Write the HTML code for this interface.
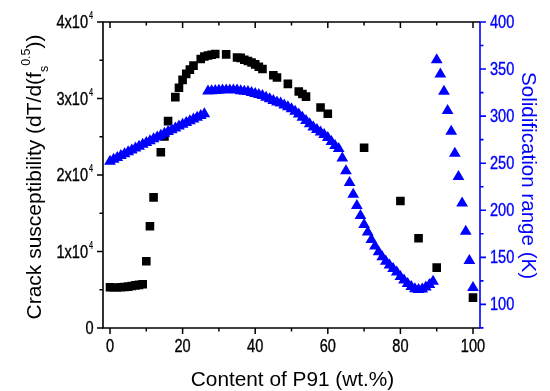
<!DOCTYPE html>
<html><head><meta charset="utf-8"><title>Crack susceptibility and solidification range vs P91 content</title>
<style>html,body{margin:0;padding:0;background:#fff;width:550px;height:391px;overflow:hidden}svg{display:block}</style>
</head><body>
<svg width="550" height="391" viewBox="0 0 550 391" font-family="'Liberation Sans', Arial, sans-serif">
<rect width="550" height="391" fill="#fff"/>
<path d="M105.7 283h8.6v8.6h-8.6zM109.33 283.2h8.6v8.6h-8.6zM112.96 283.2h8.6v8.6h-8.6zM116.59 283h8.6v8.6h-8.6zM120.22 282.7h8.6v8.6h-8.6zM123.85 282.3h8.6v8.6h-8.6zM127.48 281.7h8.6v8.6h-8.6zM131.11 281.1h8.6v8.6h-8.6zM134.74 280.6h8.6v8.6h-8.6zM138.37 280h8.6v8.6h-8.6zM142 257h8.6v8.6h-8.6zM145.63 221.9h8.6v8.6h-8.6zM149.26 193.1h8.6v8.6h-8.6zM156.52 147.9h8.6v8.6h-8.6zM160.15 132.2h8.6v8.6h-8.6zM163.78 116.8h8.6v8.6h-8.6zM171.04 92.8h8.6v8.6h-8.6zM174.67 83.5h8.6v8.6h-8.6zM178.3 75.6h8.6v8.6h-8.6zM181.93 69.6h8.6v8.6h-8.6zM185.56 65.3h8.6v8.6h-8.6zM189.19 61.3h8.6v8.6h-8.6zM196.45 54.7h8.6v8.6h-8.6zM200.08 52.2h8.6v8.6h-8.6zM203.71 51.2h8.6v8.6h-8.6zM207.34 50.5h8.6v8.6h-8.6zM210.97 49.7h8.6v8.6h-8.6zM221.86 50.05h8.6v8.6h-8.6zM232.75 53.2h8.6v8.6h-8.6zM236.38 53.6h8.6v8.6h-8.6zM240.01 55.5h8.6v8.6h-8.6zM243.64 56.7h8.6v8.6h-8.6zM247.27 58.2h8.6v8.6h-8.6zM250.9 60.1h8.6v8.6h-8.6zM254.53 62.4h8.6v8.6h-8.6zM258.16 64.7h8.6v8.6h-8.6zM269.05 71h8.6v8.6h-8.6zM272.68 73.2h8.6v8.6h-8.6zM283.57 79.6h8.6v8.6h-8.6zM294.46 87.2h8.6v8.6h-8.6zM298.09 89.7h8.6v8.6h-8.6zM301.72 92.3h8.6v8.6h-8.6zM316.24 103.2h8.6v8.6h-8.6zM323.5 109.4h8.6v8.6h-8.6zM359.8 143.4h8.6v8.6h-8.6zM396.1 196.7h8.6v8.6h-8.6zM414.25 234h8.6v8.6h-8.6zM432.4 263.3h8.6v8.6h-8.6zM468.7 293.3h8.6v8.6h-8.6z" fill="#000"/>
<path d="M110 154.7L115.9 164.7H104.1zM113.63 152.8L119.53 162.8H107.73zM117.26 150.91L123.16 160.91H111.36zM120.89 149.03L126.79 159.03H114.99zM124.52 147.14L130.42 157.14H118.62zM128.15 145.27L134.05 155.27H122.25zM131.78 143.4L137.68 153.4H125.88zM135.41 141.54L141.31 151.54H129.51zM139.04 139.68L144.94 149.68H133.14zM142.67 137.83L148.57 147.83H136.77zM146.3 135.98L152.2 145.98H140.4zM149.93 134.14L155.83 144.14H144.03zM153.56 132.3L159.46 142.3H147.66zM157.19 130.47L163.09 140.47H151.29zM160.82 128.65L166.72 138.65H154.92zM164.45 126.83L170.35 136.83H158.55zM168.08 125.02L173.98 135.02H162.18zM171.71 123.21L177.61 133.21H165.81zM175.34 121.41L181.24 131.41H169.44zM178.97 119.61L184.87 129.61H173.07zM182.6 117.82L188.5 127.82H176.7zM186.23 116.03L192.13 126.03H180.33zM189.86 114.26L195.76 124.26H183.96zM193.49 112.48L199.39 122.48H187.59zM197.12 110.71L203.02 120.71H191.22zM200.75 108.95L206.65 118.95H194.85zM204.38 107.19L210.28 117.19H198.48zM208.01 84.6L213.91 94.6H202.11zM211.64 84.2L217.54 94.2H205.74zM215.27 84L221.17 94H209.37zM218.9 83.8L224.8 93.8H213zM222.53 83.6L228.43 93.6H216.63zM226.16 83.5L232.06 93.5H220.26zM229.79 83.4L235.69 93.4H223.89zM233.42 83.4L239.32 93.4H227.52zM237.05 83.6L242.95 93.6H231.15zM240.68 84.2L246.58 94.2H234.78zM244.31 84.7L250.21 94.7H238.41zM247.94 85L253.84 95H242.04zM251.57 86L257.47 96H245.67zM255.2 87L261.1 97H249.3zM258.83 88L264.73 98H252.93zM262.46 89L268.36 99H256.56zM266.09 90.7L271.99 100.7H260.19zM269.72 92.2L275.62 102.2H263.82zM273.35 93.9L279.25 103.9H267.45zM276.98 95.5L282.88 105.5H271.08zM280.61 96.6L286.51 106.6H274.71zM284.24 98.4L290.14 108.4H278.34zM287.87 100.3L293.77 110.3H281.97zM291.5 102.3L297.4 112.3H285.6zM295.13 104.7L301.03 114.7H289.23zM298.76 107.6L304.66 117.6H292.86zM302.39 110.7L308.29 120.7H296.49zM306.02 114L311.92 124H300.12zM309.65 117.3L315.55 127.3H303.75zM313.28 120.4L319.18 130.4H307.38zM316.91 123L322.81 133H311.01zM320.54 125.5L326.44 135.5H314.64zM324.17 128L330.07 138H318.27zM327.8 131L333.7 141H321.9zM331.43 135L337.33 145H325.53zM335.06 139L340.96 149H329.16zM338.69 142L344.59 152H332.79zM342.32 151.5L348.22 161.5H336.42zM345.95 164.2L351.85 174.2H340.05zM349.58 176L355.48 186H343.68zM353.21 187.7L359.11 197.7H347.31zM356.84 198.9L362.74 208.9H350.94zM360.47 208.9L366.37 218.9H354.57zM364.1 217.9L370 227.9H358.2zM367.73 225.4L373.63 235.4H361.83zM371.36 233L377.26 243H365.46zM374.99 239.4L380.89 249.4H369.09zM378.62 245.2L384.52 255.2H372.72zM382.25 250.3L388.15 260.3H376.35zM385.88 254.8L391.78 264.8H379.98zM389.51 258.5L395.41 268.5H383.61zM393.14 262L399.04 272H387.24zM396.77 265.5L402.67 275.5H390.87zM400.4 270L406.3 280H394.5zM404.03 273.6L409.93 283.6H398.13zM407.66 277L413.56 287H401.76zM411.29 280L417.19 290H405.39zM414.92 282.3L420.82 292.3H409.02zM418.55 283L424.45 293H412.65zM422.18 282.5L428.08 292.5H416.28zM425.81 280.5L431.71 290.5H419.91zM429.44 278L435.34 288H423.54zM433.07 274.8L438.97 284.8H427.17zM436.7 53.3L442.6 63.3H430.8zM440.33 67.6L446.23 77.6H434.43zM443.96 84.8L449.86 94.8H438.06zM447.59 103.9L453.49 113.9H441.69zM451.22 124.8L457.12 134.8H445.32zM454.85 146.8L460.75 156.8H448.95zM458.48 169.9L464.38 179.9H452.58zM462.11 196.6L468.01 206.6H456.21zM465.74 224.8L471.64 234.8H459.84zM469.37 253.9L475.27 263.9H463.47zM473 280.9L478.9 290.9H467.1z" fill="#0000ff"/>
<path d="M103 22V328M102.25 328H480M102.25 22H480" stroke="#000" stroke-width="1.6" fill="none"/>
<path d="M110 328V334M110 22V28M146.3 328V331.5M146.3 22V25.5M182.6 328V334M182.6 22V28M218.9 328V331.5M218.9 22V25.5M255.2 328V334M255.2 22V28M291.5 328V331.5M291.5 22V25.5M327.8 328V334M327.8 22V28M364.1 328V331.5M364.1 22V25.5M400.4 328V334M400.4 22V28M436.7 328V331.5M436.7 22V25.5M473 328V334M473 22V28M103 328H97M103 289.75H99.5M103 251.5H97M103 213.25H99.5M103 175H97M103 136.75H99.5M103 98.5H97M103 60.25H99.5M103 22H97" stroke="#000" stroke-width="1.5" fill="none"/>
<path d="M480 21.25V328.75M480 327.92H483.5M480 304.39H486M480 280.86H483.5M480 257.33H486M480 233.79H483.5M480 210.26H486M480 186.73H483.5M480 163.19H486M480 139.66H483.5M480 116.13H486M480 92.6H483.5M480 69.06H486M480 45.53H483.5M480 22H486" stroke="#0000ff" stroke-width="1.6" fill="none"/>
<text transform="translate(110 351.5) scale(0.82 1)" text-anchor="middle" font-size="17.8" fill="#000" stroke="#000" stroke-width="0.35">0</text>
<text transform="translate(182.6 351.5) scale(0.82 1)" text-anchor="middle" font-size="17.8" fill="#000" stroke="#000" stroke-width="0.35">20</text>
<text transform="translate(255.2 351.5) scale(0.82 1)" text-anchor="middle" font-size="17.8" fill="#000" stroke="#000" stroke-width="0.35">40</text>
<text transform="translate(327.8 351.5) scale(0.82 1)" text-anchor="middle" font-size="17.8" fill="#000" stroke="#000" stroke-width="0.35">60</text>
<text transform="translate(400.4 351.5) scale(0.82 1)" text-anchor="middle" font-size="17.8" fill="#000" stroke="#000" stroke-width="0.35">80</text>
<text transform="translate(473 351.5) scale(0.82 1)" text-anchor="middle" font-size="17.8" fill="#000" stroke="#000" stroke-width="0.35">100</text>
<text transform="translate(93.5 333.8) scale(0.82 1)" text-anchor="end" font-size="17.8" fill="#000" stroke="#000" stroke-width="0.35">0</text>
<text transform="translate(88.1 257.8) scale(0.82 1)" text-anchor="end" font-size="17.8" stroke="#000" stroke-width="0.35">1x10</text>
<text transform="translate(89.0 248.7) scale(0.72 1)" font-size="10.2" stroke="#000" stroke-width="0.2">4</text>
<text transform="translate(88.1 181.3) scale(0.82 1)" text-anchor="end" font-size="17.8" stroke="#000" stroke-width="0.35">2x10</text>
<text transform="translate(89.0 172.2) scale(0.72 1)" font-size="10.2" stroke="#000" stroke-width="0.2">4</text>
<text transform="translate(88.1 104.8) scale(0.82 1)" text-anchor="end" font-size="17.8" stroke="#000" stroke-width="0.35">3x10</text>
<text transform="translate(89.0 95.7) scale(0.72 1)" font-size="10.2" stroke="#000" stroke-width="0.2">4</text>
<text transform="translate(88.1 28.3) scale(0.82 1)" text-anchor="end" font-size="17.8" stroke="#000" stroke-width="0.35">4x10</text>
<text transform="translate(89.0 19.2) scale(0.72 1)" font-size="10.2" stroke="#000" stroke-width="0.2">4</text>
<text transform="translate(490 310.29) scale(0.82 1)" text-anchor="start" font-size="17.8" fill="#0000ff" stroke="#0000ff" stroke-width="0.35">100</text>
<text transform="translate(490 263.23) scale(0.82 1)" text-anchor="start" font-size="17.8" fill="#0000ff" stroke="#0000ff" stroke-width="0.35">150</text>
<text transform="translate(490 216.16) scale(0.82 1)" text-anchor="start" font-size="17.8" fill="#0000ff" stroke="#0000ff" stroke-width="0.35">200</text>
<text transform="translate(490 169.09) scale(0.82 1)" text-anchor="start" font-size="17.8" fill="#0000ff" stroke="#0000ff" stroke-width="0.35">250</text>
<text transform="translate(490 122.03) scale(0.82 1)" text-anchor="start" font-size="17.8" fill="#0000ff" stroke="#0000ff" stroke-width="0.35">300</text>
<text transform="translate(490 74.97) scale(0.82 1)" text-anchor="start" font-size="17.8" fill="#0000ff" stroke="#0000ff" stroke-width="0.35">350</text>
<text transform="translate(490 27.9) scale(0.82 1)" text-anchor="start" font-size="17.8" fill="#0000ff" stroke="#0000ff" stroke-width="0.35">400</text>
<text x="190.8" y="385.6" font-size="20.8">Content of P91 (wt.%)</text>
<text transform="translate(521.5 72) rotate(90)" font-size="20.6" fill="#0000ff">Solidification range (K)</text>
<text transform="translate(41 319.5) rotate(-90)" font-size="21">Crack susceptibility (dT/d(f<tspan font-size="12.5" dy="6.5">s</tspan><tspan font-size="12.5" dy="-17.2">0.5</tspan><tspan dy="10.7">))</tspan></text>
</svg>
</body></html>
